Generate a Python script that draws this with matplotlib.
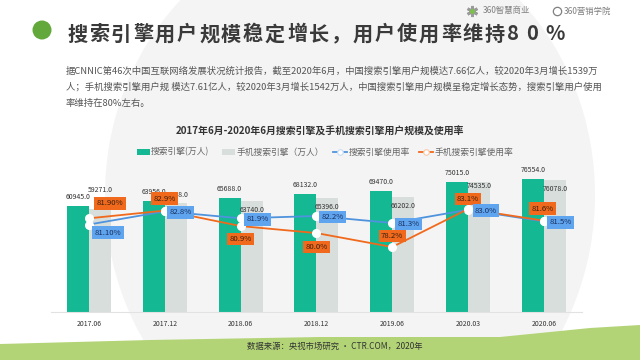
import matplotlib
matplotlib.use('Agg')
import matplotlib.pyplot as plt
from matplotlib.patches import Ellipse, Polygon, Circle, Rectangle
from matplotlib.lines import Line2D

plt.rcParams['font.family'] = ['Noto Sans CJK SC', 'DejaVu Sans']

# данные графика
periods = ['2017.06', '2017.12', '2018.06', '2018.12', '2019.06', '2020.03', '2020.06']
search_users = [60945.0, 63956.0, 65688.0, 68132.0, 69470.0, 75015.0, 76554.0]
mobile_users = [59271.0, 62398.0, 63740.0, 65396.0, 66202.0, 74535.0, 76078.0]
search_rate = [81.1, 82.8, 81.9, 82.2, 81.3, 83.0, 81.5]
mobile_rate = [81.9, 82.9, 80.9, 80.0, 78.2, 83.1, 81.6]
search_rate_labels = ['81.10%', '82.8%', '81.9%', '82.2%', '81.3%', '83.0%', '81.5%']
mobile_rate_labels = ['81.90%', '82.9%', '80.9%', '80.0%', '78.2%', '83.1%', '81.6%']
series_names = ['搜索引擎(万人)', '手机搜索引擎（万人）', '搜索引擎使用率', '手机搜索引擎使用率']

title = '搜索引擎用户规模稳定增长，用户使用率维持80%'
chart_title = '2017年6月-2020年6月搜索引擎及手机搜索引擎用户规模及使用率'
paragraph = [
    '据CNNIC第46次中国互联网络发展状况统计报告，截至2020年6月，中国搜索引擎用户规模达7.66亿人，较2020年3月增长1539万',
    '人；手机搜索引擎用户规 模达7.61亿人，较2020年3月增长1542万人，中国搜索引擎用户规模呈稳定增长态势，搜索引擎用户使用',
    '率维持在80%左右。',
]
source = '数据来源：央视市场研究 · CTR.COM，2020年'

GREEN = '#14b893'
GRAY = '#d8dedb'
BLUE = '#4f93de'
ORANGE = '#f0691c'

# смещения подписей (пиксели)
mobile_label_dy = [19, 8, -9, -9, -9, -4, -9]
orange_off = [(21, 15), (0, 12), (0, -13), (0, -14), (0, 11), (0, 10), (-1, 12)]
blue_off = [(19, -8), (16, -1), (17, -1), (16, -1), (16, -1), (18, -1), (17, -1)]

fig = plt.figure(figsize=(6.4, 3.6), dpi=100)
bg = fig.add_axes([0, 0, 1, 1])
bg.set_xlim(0, 640)
bg.set_ylim(360, 0)
bg.axis('off')

# фон
bg.add_patch(Ellipse((350, 195), 490, 540, fc='#f4f4f4', ec='none'))
bg.add_patch(Polygon([(0, 344), (150, 340), (320, 337), (500, 337), (590, 328),
                      (640, 325), (640, 360), (0, 360)], fc='#b3d476', ec='none'))
bg.add_patch(Circle((42, 30), 9.5, fc='#62a83a', ec='none'))

# заголовок с разрядкой
x = 67
for ch in title:
    bg.text(x, 34, ch, fontsize=14.5, fontweight='bold', color='#3a3a3a', ha='left', va='center')
    x += 19 if ch in '0123456789%' else 22

for i, line in enumerate(paragraph):
    bg.text(66, 71 + 16 * i, line, fontsize=6.75, color='#555555', ha='left', va='center')

# логотипы
bg.plot([472], [11], marker=(6, 2, 0), ms=8, color='#9a9a9a', mew=2)
bg.plot([472], [11], 'o', ms=2.5, color='#7cc24a')
bg.text(483, 11, '360智慧商业', fontsize=6, color='#808080', ha='left', va='center')
bg.plot([557], [11], 'o', ms=6, mfc='none', mec='#808080', mew=0.9)
bg.text(564, 11, '360营销学院', fontsize=6, color='#808080', ha='left', va='center')

bg.text(320, 132, chart_title, fontsize=7.1, fontweight='bold', color='#333333', ha='center', va='center')
bg.text(247, 346, source, fontsize=6, color='#333333', ha='left', va='center')

# легенда
ly = 152
bg.add_patch(Rectangle((137, ly - 3), 13, 6, fc=GREEN, ec='none'))
bg.text(151, ly, series_names[0], fontsize=6.3, color='#666666', ha='left', va='center')
bg.add_patch(Rectangle((222, ly - 3), 13, 6, fc=GRAY, ec='none'))
bg.text(237, ly, series_names[1], fontsize=6.3, color='#666666', ha='left', va='center')
bg.add_artist(Line2D([333, 347], [ly, ly], color=BLUE, lw=1.3))
bg.plot([340], [ly], 'o', ms=4, mfc='white', mec='#c8dcf3', mew=0.8)
bg.text(349, ly, series_names[2], fontsize=6.3, color='#666666', ha='left', va='center')
bg.add_artist(Line2D([419, 433], [ly, ly], color=ORANGE, lw=1.3))
bg.plot([426], [ly], 'o', ms=4, mfc='white', mec='#f6c9a8', mew=0.8)
bg.text(435, ly, series_names[3], fontsize=6.3, color='#666666', ha='left', va='center')

# область графика
ax = fig.add_axes([51.1 / 640, 48 / 360, 530.6 / 640, 172 / 360])
ax.set_facecolor('none')
xs = list(range(len(periods)))
w = 0.29
ax.bar([i - w / 2 for i in xs], search_users, width=w, color=GREEN, zorder=2)
ax.bar([i + w / 2 for i in xs], mobile_users, width=w, color=GRAY, zorder=2)
ax.set_xlim(-0.5, len(periods) - 0.5)
ax.set_ylim(0, 172 * 575)
ax.set_yticks([])
ax.set_xticks(xs)
ax.set_xticklabels(periods, fontsize=5, color='#333333')
ax.tick_params(axis='x', length=0, pad=6)
for s in ['top', 'left', 'right']:
    ax.spines[s].set_visible(False)
ax.spines['bottom'].set_color('#e2e2e2')
ax.spines['bottom'].set_linewidth(0.8)

for i in xs:
    ax.annotate(f'{search_users[i]:.1f}', (i - w / 2, search_users[i]), xytext=(0, 9),
                textcoords='offset pixels', ha='center', va='center', fontsize=5, color='#333333')
    ax.annotate(f'{mobile_users[i]:.1f}', (i + w / 2, mobile_users[i]), xytext=(0, mobile_label_dy[i]),
                textcoords='offset pixels', ha='center', va='center', fontsize=5, color='#333333')

ax2 = ax.twinx()
ax2.set_ylim(69.82, 92.0)
ax2.axis('off')
ax2.plot(xs, search_rate, color=BLUE, lw=1.3, marker='o', ms=5.5, mfc='white', mec='white', zorder=3)
ax2.plot(xs, mobile_rate, color=ORANGE, lw=1.3, marker='o', ms=5.5, mfc='white', mec='white', zorder=3)

for i in xs:
    ax2.annotate(mobile_rate_labels[i], (i, mobile_rate[i]), xytext=orange_off[i],
                 textcoords='offset pixels', ha='center', va='center', fontsize=5.6, color='#3a2010',
                 bbox=dict(boxstyle='square,pad=0.3', fc=ORANGE, ec='none'), zorder=5)
    ax2.annotate(search_rate_labels[i], (i, search_rate[i]), xytext=blue_off[i],
                 textcoords='offset pixels', ha='center', va='center', fontsize=5.6, color='#1a2f5c',
                 bbox=dict(boxstyle='square,pad=0.3', fc='#5ea4ef', ec='none'), zorder=5)

fig.savefig('out.png', dpi=100)
